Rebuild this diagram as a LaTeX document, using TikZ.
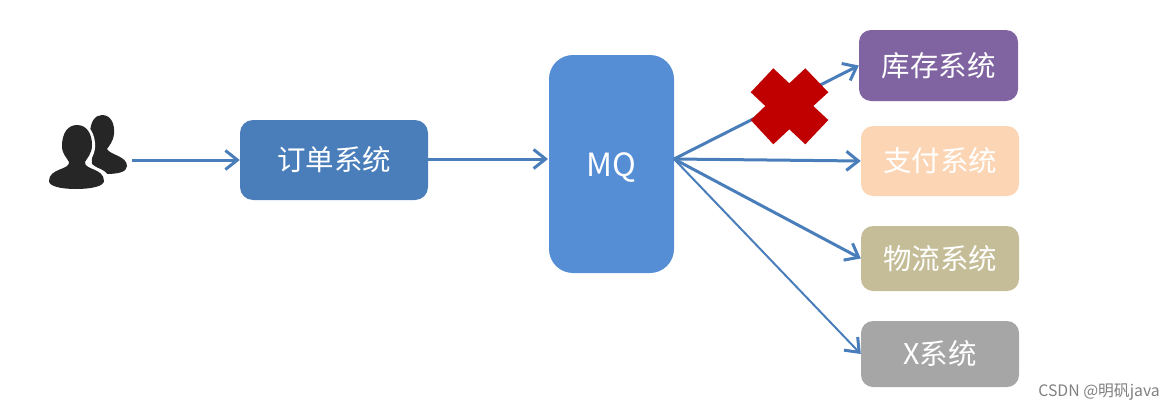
\documentclass[tikz,border=0pt]{standalone}
\usepackage{fontspec}
\setmainfont{Noto Sans CJK SC}
\usetikzlibrary{arrows.meta}
\definecolor{linkblue}{HTML}{4A7EBB}
\definecolor{mqc}{HTML}{558ED5}
\definecolor{stockc}{HTML}{8064A2}
\definecolor{payc}{HTML}{FCD5B5}
\definecolor{logc}{HTML}{C4BD97}
\definecolor{xc}{HTML}{A6A6A6}
\definecolor{crossc}{HTML}{C00000}
\tikzset{
  box/.style={anchor=center,rounded corners=#1,text=white,font=\fontsize{28.5}{28.5}\selectfont,inner sep=0pt},
  link/.style={draw=linkblue,line width=#1,-{Straight Barb[length=12pt,width=19pt,line width=3pt]}},
  link/.default=3pt,
  icon/.style={fill=black!85,draw=none}
}
\begin{document}
\begin{tikzpicture}[x=1pt,y=-1pt]
\useasboundingbox (0,0) rectangle (1174,410);
% user icon
\fill[icon] (90,134) .. controls (90,122) and (95,115) .. (102,115) .. controls (111,115) and (115,124) .. (114,134) .. controls (113,142) and (109,146) .. (107,149) .. controls (110,155) and (127,156) .. (127,166) .. controls (127,172) and (118,174) .. (106,174) -- (92,164) .. controls (92,155) and (92,146) .. (90,134) -- cycle;
\fill[white] (59,150) .. controls (59,132) and (67,122) .. (77,122) .. controls (90,122) and (96,136) .. (95,148) .. controls (94,156) and (91,159) .. (89,163) .. controls (92,168) and (110,168) .. (110,182) -- (92,192) -- cycle;
\fill[icon] (62,146) .. controls (62,133) and (68,125) .. (77,125) .. controls (87,125) and (92,134) .. (92,145) .. controls (92,154) and (87,158) .. (85,162) .. controls (84,170) and (104,168) .. (104,181) .. controls (104,186) and (92,189) .. (76,189) .. controls (60,189) and (49,186) .. (49,181) .. controls (49,168) and (70,170) .. (69,162) .. controls (67,158) and (62,154) .. (62,146) -- cycle;
\coordinate (user) at (132,160);
% boxes
\node[box=13pt,fill=linkblue,minimum width=188pt,minimum height=80pt] (order) at (334,160) {订单系统};
\node[box=24pt,fill=mqc,minimum width=125pt,minimum height=218pt,text height=24pt,text depth=0pt] (mq) at (611.5,164) {\fontsize{32}{32}\selectfont MQ};
\node[box=12pt,fill=stockc,minimum width=159pt,minimum height=71pt] (stock) at (938.5,65.5) {库存系统};
\node[box=12pt,fill=payc,minimum width=158pt,minimum height=70pt] (pay) at (940,161) {支付系统};
\node[box=12pt,fill=logc,minimum width=158pt,minimum height=65pt] (logi) at (940,258.5) {物流系统};
\node[box=12pt,fill=xc,minimum width=158pt,minimum height=66pt] (xsys) at (940,354) {X系统};
\coordinate (mqout) at (674,159);
\coordinate (orderout) at (428,159);
\coordinate (mqin) at (548,159);
% connectors
\draw[link] (user) -- (order.west |- user);
\draw[link] (orderout) -- (mqin);
\draw[link] (mqout) -- (stock.west);
\draw[link] (mqout) -- (pay.west);
\draw[link] (mqout) -- (logi.west);
\draw[link=2pt] (mqout) -- (xsys.west);
% cross
\fill[crossc] (773.3,68.3) -- (789.3,83.3) -- (805.3,68.3) -- (828.3,92.3) -- (813.3,106) -- (828.3,120) -- (805.3,144.3) -- (789.3,129.3) -- (773.3,144.3) -- (750.7,120) -- (765.3,106) -- (750.7,92.3) -- cycle;
% watermark
\node[anchor=east,text=black!50,font=\fontsize{15.8}{15.8}\selectfont,inner sep=0pt] (mark) at (1160,392) {CSDN @明矾java};
\end{tikzpicture}
\end{document}
